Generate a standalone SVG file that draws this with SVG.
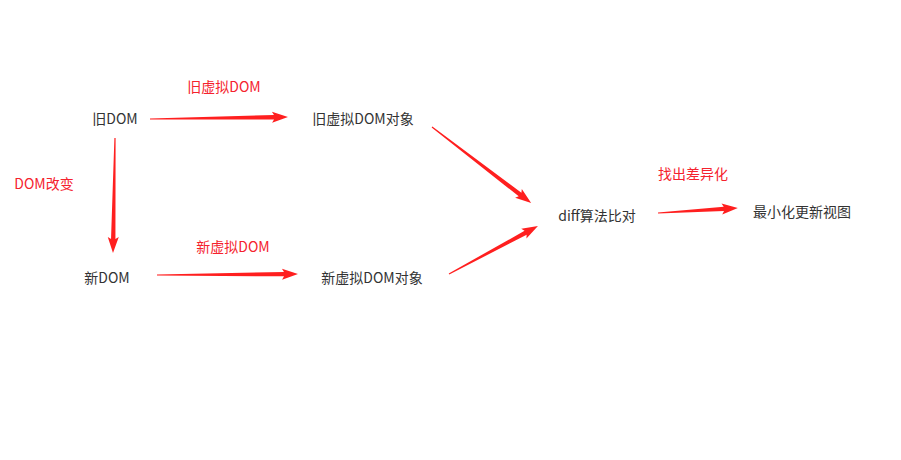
<svg xmlns="http://www.w3.org/2000/svg" width="901" height="460" viewBox="0 0 901 460">
<style>
text{font-family:"Noto Sans CJK SC","Liberation Sans",sans-serif;font-size:14px;text-anchor:middle;dominant-baseline:central}
.n{fill:#333}
.l{fill:#f5222d}
.a{fill:#ff1f1f}
</style>
<rect width="901" height="460" fill="#fff"/>
<g id="connectors">
<path class="a" transform="translate(150,119) rotate(-0.8)" d="M0,-0.6 L124,-2.2 L122,-5.5 L138,0 L122,5.5 L124,2.2 L0,0.6 Z"/>
<path class="a" transform="translate(115,138) rotate(91)" d="M0,-0.6 L101,-2.2 L99,-5.5 L115,0 L99,5.5 L101,2.2 L0,0.6 Z"/>
<path class="a" transform="translate(157,275) rotate(-0.4)" d="M0,-0.6 L127,-2.2 L125,-5.5 L141,0 L125,5.5 L127,2.2 L0,0.6 Z"/>
<path class="a" transform="translate(432,127) rotate(37.5)" d="M0,-0.6 L111,-2.2 L109,-5.5 L125,0 L109,5.5 L111,2.2 L0,0.6 Z"/>
<path class="a" transform="translate(449,274) rotate(-28.3)" d="M0,-0.6 L87,-2.2 L85,-5.5 L101,0 L85,5.5 L87,2.2 L0,0.6 Z"/>
<path class="a" transform="translate(658,213) rotate(-3.6)" d="M0,-0.6 L66,-2.2 L64,-5.5 L80,0 L64,5.5 L66,2.2 L0,0.6 Z"/>
</g>
<g id="old-dom"><text class="n" x="115" y="118">旧DOM</text></g>
<g id="old-vdom"><text class="n" x="363" y="118">旧虚拟DOM对象</text></g>
<g id="diff"><text class="n" x="597" y="215">diff算法比对</text></g>
<g id="update"><text class="n" x="802" y="211">最小化更新视图</text></g>
<g id="new-dom"><text class="n" x="107" y="277">新DOM</text></g>
<g id="new-vdom"><text class="n" x="372" y="277">新虚拟DOM对象</text></g>
<g id="labels">
<text class="l" x="224" y="86">旧虚拟DOM</text>
<text class="l" x="44" y="183">DOM改变</text>
<text class="l" x="233" y="246">新虚拟DOM</text>
<text class="l" x="693" y="173">找出差异化</text>
</g>
</svg>
